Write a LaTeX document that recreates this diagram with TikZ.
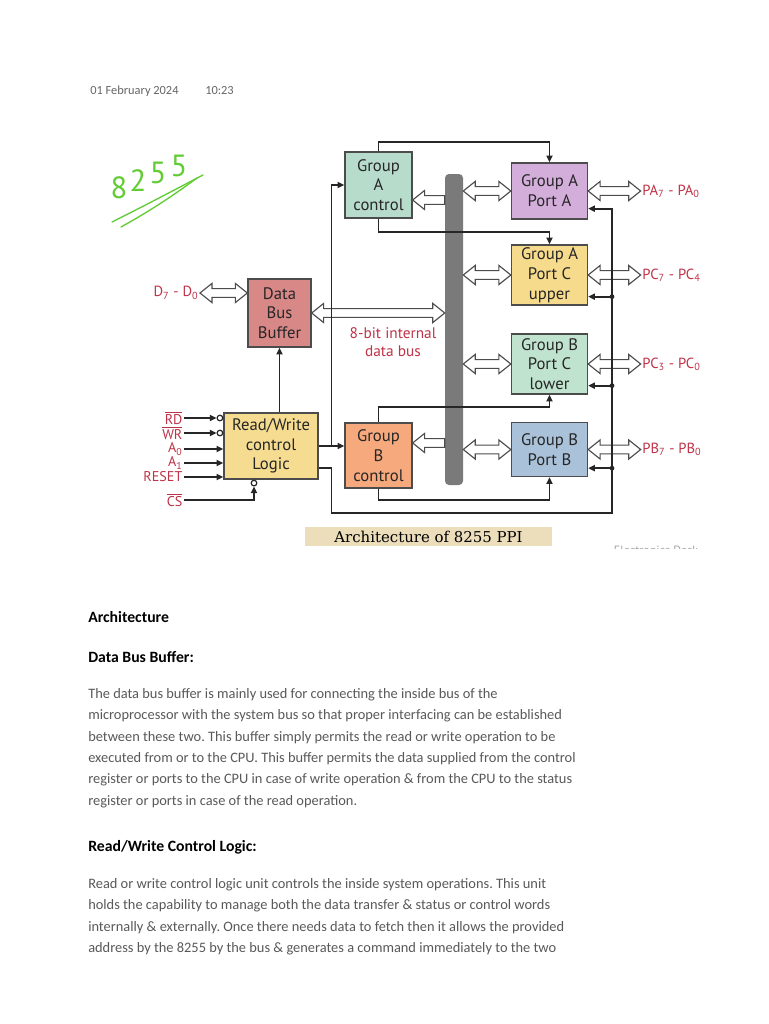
\documentclass[tikz,border=0pt]{standalone}
\usepackage{fontspec}
\setmainfont{Carlito}
\newfontfamily\figfont{PT Sans}
\newfontfamily\capfont{DejaVu Serif}
\usetikzlibrary{arrows.meta,calc}
\frenchspacing

\definecolor{gacfill}{HTML}{B8DCCB}
\definecolor{pafill}{HTML}{D3AEDB}
\definecolor{pcufill}{HTML}{F7DB8C}
\definecolor{pclfill}{HTML}{C0E3CF}
\definecolor{pbfill}{HTML}{A9C2D9}
\definecolor{dbbfill}{HTML}{D98888}
\definecolor{rwlfill}{HTML}{F5DC90}
\definecolor{gbcfill}{HTML}{F5A97C}
\definecolor{capfill}{HTML}{ECDDBB}
\definecolor{sigred}{HTML}{BE3348}
\definecolor{busgray}{HTML}{7A7A7A}
\definecolor{pengreen}{HTML}{62CC35}

\tikzset{
  fatboth/.style={draw=black!70, fill=white, line width=0.85pt, line join=miter,
    to path={let \p1=(\tikztostart), \p2=(\tikztotarget) in
      (\x1,\y1) -- (\x1+9pt,\y1+7.2pt) -- (\x1+9pt,\y1+3.3pt) -- (\x2-9pt,\y1+3.3pt)
      -- (\x2-9pt,\y1+7.2pt) -- (\x2,\y1) -- (\x2-9pt,\y1-7.2pt) -- (\x2-9pt,\y1-3.3pt)
      -- (\x1+9pt,\y1-3.3pt) -- (\x1+9pt,\y1-7.2pt) -- cycle}},
  fatone/.style={draw=black!70, fill=white, line width=0.85pt, line join=miter,
    to path={let \p1=(\tikztostart), \p2=(\tikztotarget) in
      (\x2,\y1) -- (\x2+9pt,\y1+7.2pt) -- (\x2+9pt,\y1+3.3pt) -- (\x1,\y1+3.3pt)
      -- (\x1,\y1-3.3pt) -- (\x2+9pt,\y1-3.3pt) -- (\x2+9pt,\y1-7.2pt) -- cycle}},
}

\begin{document}
\begin{tikzpicture}[x=0.75pt, y=-0.75pt,
  >={Triangle[length=5pt,width=4.5pt]},
  blk/.style={draw=black!70, line width=1pt, inner sep=0pt, align=center,
    text=black!85, font=\figfont\fontsize{12.5}{14.8}\selectfont},
  port/.style={blk, minimum width=57pt},
  busbar/.style={fill=busgray, rounded corners=3pt, inner sep=0pt,
    minimum width=13.5pt, minimum height=233.25pt},
  sig/.style={text=sigred, inner sep=1pt, font=\figfont\fontsize{11}{12}\selectfont},
  wire/.style={draw=black!85, line width=1.35pt},
  bubble/.style={circle, draw=black!85, fill=white, line width=0.9pt,
    inner sep=0pt, minimum size=4.2pt},
  stamp/.style={text=black!60, inner sep=0pt, font=\fontsize{9.3}{11}\selectfont},
  head/.style={inner sep=0pt, font=\bfseries\fontsize{11.8}{14}\selectfont},
  body/.style={text=black!65, inner sep=0pt, font=\fontsize{10.8}{12}\selectfont},
  scrawl/.style={text=pengreen, inner sep=0pt, font=\figfont\fontsize{23}{24}\selectfont},
  scrawlline/.style={draw=pengreen, line width=1pt, line cap=round},
  ]
  \fill[white] (0,0) rectangle (768,1024);
  \useasboundingbox (0,0) rectangle (768,1024);

  % date line
  \node[stamp, anchor=base west] (date) at (90,94) {01 February 2024};
  \node[stamp, anchor=base west] (time) at (205,94) {10:23};

  % scribbled note
  \foreach \d/\xx/\yy [count=\i] in {8/119/188, 2/138/181, 5/158/173, 5/179/166}
    \node[scrawl] (mark\i) at (\xx,\yy) {\d};
  \draw[scrawlline] (112,222) .. controls (150,203) and (178,188) .. (203,175);
  \draw[scrawlline] (121,227) .. controls (150,211) and (174,195) .. (197,178);

  % blocks
  \node[blk, fill=gacfill, minimum width=50.25pt, minimum height=49.5pt] (gac) at (378.5,185) {Group\\A\\control};
  \node[port, fill=pafill, minimum height=42pt] (pa) at (549.5,191) {Group A\\Port A};
  \node[port, fill=pcufill, minimum height=45pt] (pcu) at (549.5,275) {Group A\\Port C\\upper};
  \node[port, fill=pclfill, minimum height=45pt] (pcl) at (549.5,364) {Group B\\Port C\\lower};
  \node[port, fill=pbfill, minimum height=40.5pt] (pb) at (549.5,449.5) {Group B\\Port B};
  \node[blk, fill=dbbfill, minimum width=47.25pt, minimum height=51pt] (dbb) at (279.5,313) {Data\\Bus\\Buffer};
  \node[blk, fill=rwlfill, minimum width=70.5pt, minimum height=49.5pt] (rwl) at (271,446) {Read/Write\\control\\Logic};
  \node[blk, fill=gbcfill, minimum width=50.25pt, minimum height=48.75pt] (gbc) at (378.5,455.5) {Group\\B\\control};
  \node[busbar] (bus) at (454,329.5) {};

  % outside signals
  \node[sig, anchor=east] (d70) at (200,293) {D\textsubscript{7} - D\textsubscript{0}};
  \node[sig, align=center, font=\figfont\fontsize{11.5}{13.5}\selectfont] (busnote) at (393,342) {8-bit internal\\data bus};
  \foreach \n/\yy/\txt in {rd/418/$\overline{\mbox{RD}}$, wr/433/$\overline{\mbox{WR}}$,
      a0/449/A\textsubscript{0}, a1/463/A\textsubscript{1}, reset/477/RESET, cs/500/$\overline{\mbox{CS}}$}
    \node[sig, anchor=east, font=\figfont\fontsize{10.6}{12}\selectfont] (\n) at (184,\yy) {\txt};

  % wide data paths
  \draw[fatboth] (d70.east) to (d70.east -| dbb.west);
  \draw[fatboth] (dbb.east) to (dbb.east -| bus.west);
  \coordinate (gacin) at ([yshift=-11.25pt]gac.east);
  \coordinate (gbcin) at ([yshift=9.4pt]gbc.east);
  \draw[fatone] (bus.west |- gacin) to (gacin);
  \draw[fatone] (bus.west |- gbcin) to (gbcin);
  \foreach \q/\txt in {pa/PA\textsubscript{7} - PA\textsubscript{0}, pcu/PC\textsubscript{7} - PC\textsubscript{4},
      pcl/PC\textsubscript{3} - PC\textsubscript{0}, pb/PB\textsubscript{7} - PB\textsubscript{0}} {
    \node[sig, anchor=west] (o\q) at ([xshift=39.4pt]\q.east) {\txt};
    \draw[fatboth] (bus.east |- \q.west) to (\q.west);
    \draw[fatboth] (\q.east) to (o\q.west);
  }

  % control wires
  \draw[wire,->] (gac.north) -- ++(0,-9) -| (pa.north);
  \draw[wire,->] (gac.south) -- ++(0,13) -| (pcu.north);
  \draw[wire,->] (gbc.north) -- ++(0,-15) -| (pcl.south);
  \draw[wire,->] (gbc.south) -- ++(0,11) -| (pb.south);
  \draw[wire,->] (dbb.south |- rwl.north) -- (dbb.south);
  \draw[wire,->] (rwl.east) -- (rwl.east -| gbc.west);
  \coordinate (j1) at ($(rwl.east)!0.5!(rwl.east -| gbc.west)$);
  \draw[wire,->] (j1) |- (gac.west);
  \coordinate (rwo) at ([yshift=9pt]rwl.south east);
  \coordinate (rail) at (612,513);
  \draw[wire,->] (rwo) -- (rwo -| j1) |- (rail) |- ([yshift=8.25pt]pa.south east);
  \foreach \q in {pcu,pcl,pb} {
    \path ([yshift=6.75pt]\q.south east) coordinate (t\q);
    \draw[wire,->] (rail |- t\q) -- (t\q);
    \fill[black!85] (rail |- t\q) circle (1.8pt);
  }

  % inputs of the read/write logic
  \foreach \n in {rd,wr} {
    \node[bubble, anchor=east] (b\n) at (\n.east -| rwl.west) {};
    \draw[wire,->] (\n.east) -- (b\n.west);
  }
  \foreach \n in {a0,a1,reset}
    \draw[wire,->] (\n.east) -- (\n.east -| rwl.west);
  \node[bubble, anchor=north] (bcs) at ([xshift=-12.75pt]rwl.south) {};
  \draw[wire,->] (cs.east) -| (bcs.south);

  % caption
  \node[fill=capfill, minimum width=185pt, minimum height=14.25pt, inner sep=0pt,
    font=\capfont\fontsize{11.2}{12}\selectfont] (cap) at (428.5,536.5) {Architecture of 8255 PPI};
  \begin{scope}
    \clip (600,538) rectangle (715,548.5);
    \node[text=black!35, inner sep=0pt, font=\figfont\fontsize{9}{10}\selectfont] (wm) at (656,550) {Electronics Desk};
  \end{scope}

  % notes below the figure
  \node[head, anchor=base west] (arch) at (88,622) {Architecture};
  \node[head, anchor=base west] (dbbhead) at (88,662) {Data Bus Buffer:};
  \foreach \yy/\txt [count=\i] in {
      698/The data bus buffer is mainly used for connecting the inside bus of the,
      719.5/microprocessor with the system bus so that proper interfacing can be established,
      741/between these two. This buffer simply permits the read or write operation to be,
      762/executed from or to the CPU. This buffer permits the data supplied from the control,
      783.5/register or ports to the CPU in case of write operation \& from the CPU to the status,
      805/register or ports in case of the read operation.}
    \node[body, anchor=base west] (l\i) at (88,\yy) {\txt};
  \node[head, anchor=base west] (rwhead) at (88,851) {Read/Write Control Logic:};
  \foreach \yy/\txt [count=\i] in {
      888/Read or write control logic unit controls the inside system operations. This unit,
      909.5/holds the capability to manage both the data transfer \& status or control words,
      931/internally \& externally. Once there needs data to fetch then it allows the provided,
      952/address by the 8255 by the bus \& generates a command immediately to the two}
    \node[body, anchor=base west] (m\i) at (88,\yy) {\txt};
\end{tikzpicture}
\end{document}
